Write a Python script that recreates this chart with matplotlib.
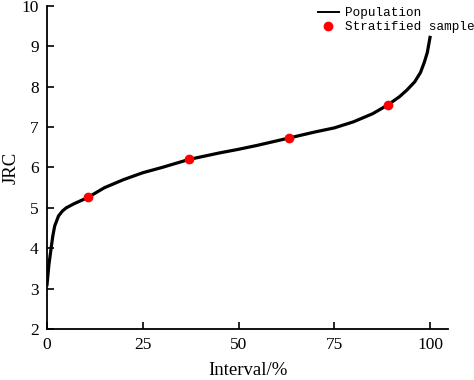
import matplotlib
matplotlib.use("Agg")
import matplotlib.pyplot as plt

# population curve
interval = [0, 0.5, 1, 1.5, 2, 3, 4, 5, 7, 10.7, 15, 20, 25, 30, 37.1, 45, 50, 55,
            63.2, 70, 75, 80, 85, 89, 92, 94, 96, 97.5, 98.5, 99.3, 100]
jrc = [3.1, 3.6, 3.95, 4.3, 4.55, 4.8, 4.92, 5.0, 5.1, 5.26, 5.5, 5.7, 5.87, 6.0,
       6.2, 6.36, 6.45, 6.55, 6.73, 6.88, 6.98, 7.13, 7.33, 7.55, 7.75, 7.92, 8.12,
       8.35, 8.6, 8.85, 9.22]

# stratified sample points
sample_x = [10.7, 37.1, 63.2, 89.0]
sample_y = [5.26, 6.20, 6.73, 7.55]

xticks = [0, 25, 50, 75, 100]
yticks = [2, 3, 4, 5, 6, 7, 8, 9, 10]

serif = "Liberation Serif"
mono = "Liberation Mono"

fig = plt.figure(figsize=(4.74, 3.8), dpi=100)
ax = fig.add_axes([0.0992, 0.134, 0.846, 0.8505])

ax.plot(interval, jrc, color="black", linewidth=2.3, label="Population")
ax.plot(sample_x, sample_y, "o", color="red", markersize=6, label="Stratified sample",
        zorder=3)

ax.set_xlim(0, 104.7)
ax.set_ylim(2, 10)
ax.set_xticks(xticks)
ax.set_yticks(yticks)
ax.spines["top"].set_visible(False)
ax.spines["right"].set_visible(False)
for s in ("left", "bottom"):
    ax.spines[s].set_linewidth(1.3)
ax.tick_params(direction="in", length=5, width=1.2, labelsize=12.5, pad=6)
for lab in ax.get_xticklabels() + ax.get_yticklabels():
    lab.set_fontfamily(serif)

ax.set_xlabel("Interval/%", fontfamily=serif, fontsize=13.5, labelpad=6)
ax.set_ylabel("JRC", fontfamily=serif, fontsize=13.5)
ax.yaxis.set_label_coords(-0.068, 0.5)

leg = ax.legend(loc="upper left", bbox_to_anchor=(0.663, 1.012), frameon=False,
                prop={"family": mono, "size": 9.1}, handlelength=1.67,
                handletextpad=0.5, labelspacing=0.15, borderaxespad=0)
leg.get_lines()[0].set_linewidth(1.4)

fig.savefig("out.png", dpi=100)
